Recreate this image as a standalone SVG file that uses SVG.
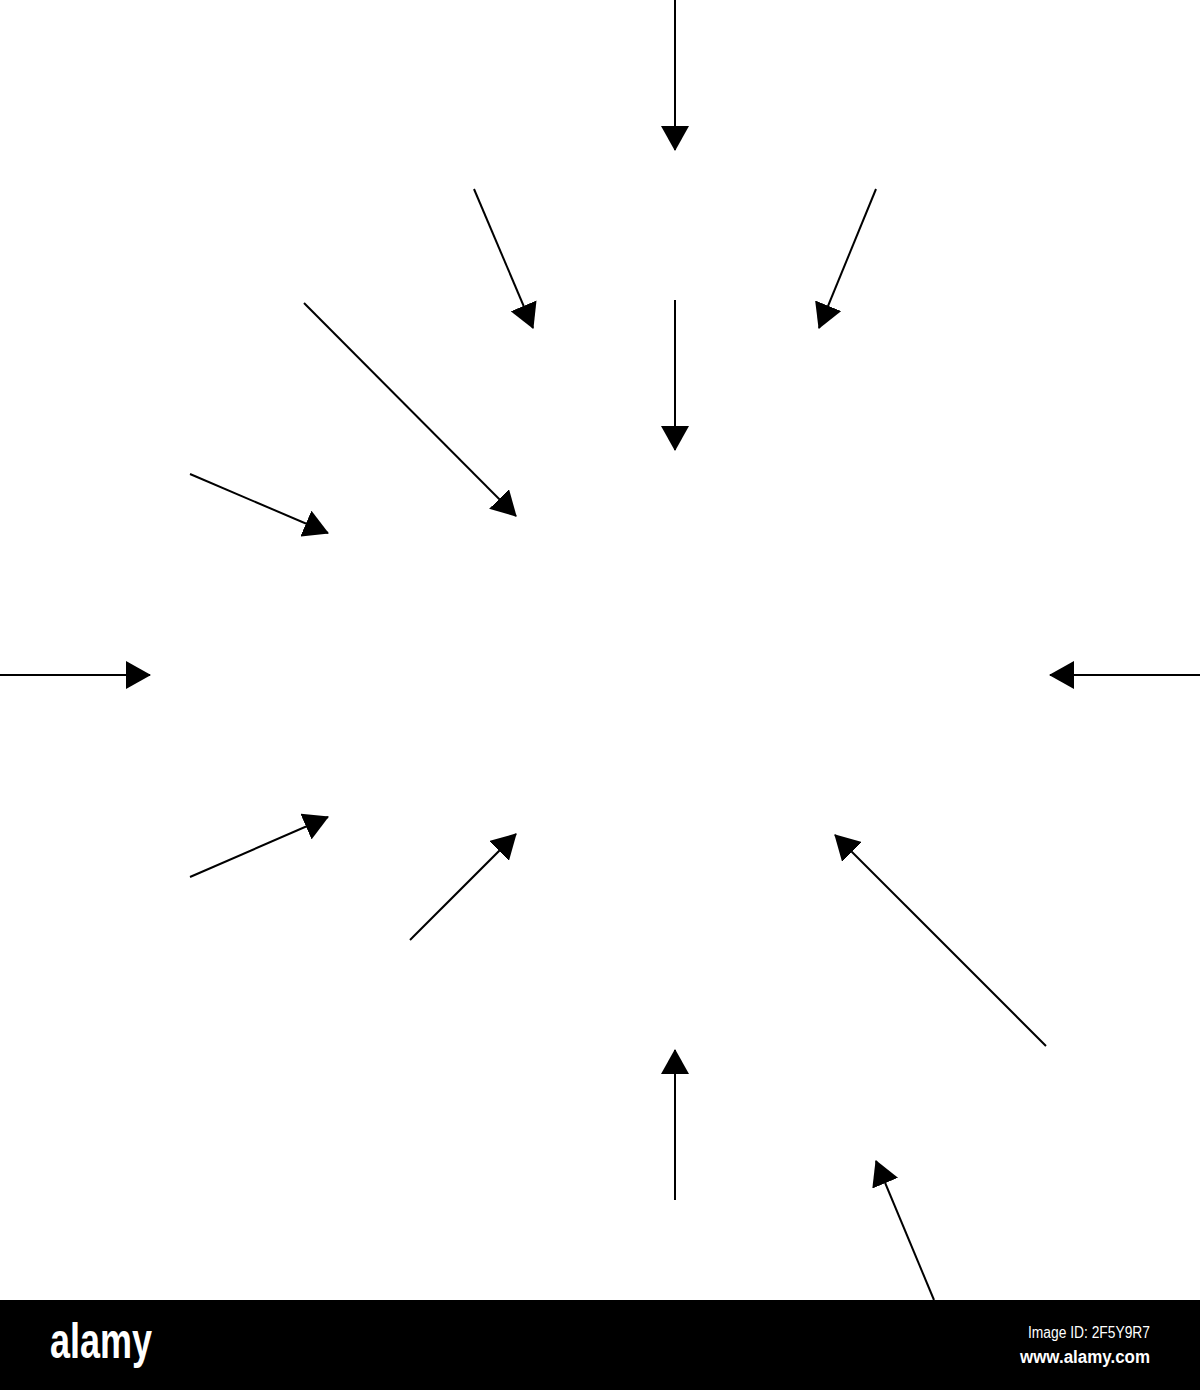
<svg xmlns="http://www.w3.org/2000/svg" width="1200" height="1390" viewBox="0 0 1200 1390">
<style>
.a{stroke:#000;stroke-width:2;fill:none;marker-end:url(#h)}
.t{fill:#fff;font-family:"Liberation Sans",Arial,sans-serif}
</style>
<defs>
<marker id="h" viewBox="0 0 25 28" refX="24" refY="14" markerWidth="25" markerHeight="28" markerUnits="userSpaceOnUse" orient="auto">
<path d="M0,0 L25,14 L0,28 Z" fill="#000"/>
</marker>
</defs>
<rect width="1200" height="1390" fill="#fff"/>
<g id="connectors">
<line class="a" x1="675" y1="0" x2="675" y2="150"/>
<line class="a" x1="474" y1="189" x2="533" y2="328"/>
<line class="a" x1="876" y1="189" x2="819" y2="328"/>
<line class="a" x1="675" y1="300" x2="675" y2="450"/>
<line class="a" x1="304" y1="303" x2="516" y2="516"/>
<line class="a" x1="190" y1="474" x2="328" y2="533"/>
<line class="a" x1="0" y1="675" x2="150" y2="675"/>
<line class="a" x1="1200" y1="675" x2="1050" y2="675"/>
<line class="a" x1="190" y1="877" x2="328" y2="817"/>
<line class="a" x1="410" y1="940" x2="516" y2="834"/>
<line class="a" x1="1046" y1="1046" x2="835" y2="835"/>
<line class="a" x1="675" y1="1200" x2="675" y2="1050"/>
<line class="a" x1="934" y1="1300" x2="876" y2="1161"/>
</g>
<g id="footer">
<rect x="0" y="1300" width="1200" height="90" fill="#000"/>
<text class="t" x="50" y="1358" font-size="50" font-weight="bold" textLength="102" lengthAdjust="spacingAndGlyphs">alamy</text>
<text class="t" x="1150" y="1338" font-size="16" text-anchor="end" textLength="122" lengthAdjust="spacingAndGlyphs">Image ID: 2F5Y9R7</text>
<text class="t" x="1150" y="1363" font-size="18" font-weight="bold" text-anchor="end" textLength="130" lengthAdjust="spacingAndGlyphs">www.alamy.com</text>
</g>
</svg>
